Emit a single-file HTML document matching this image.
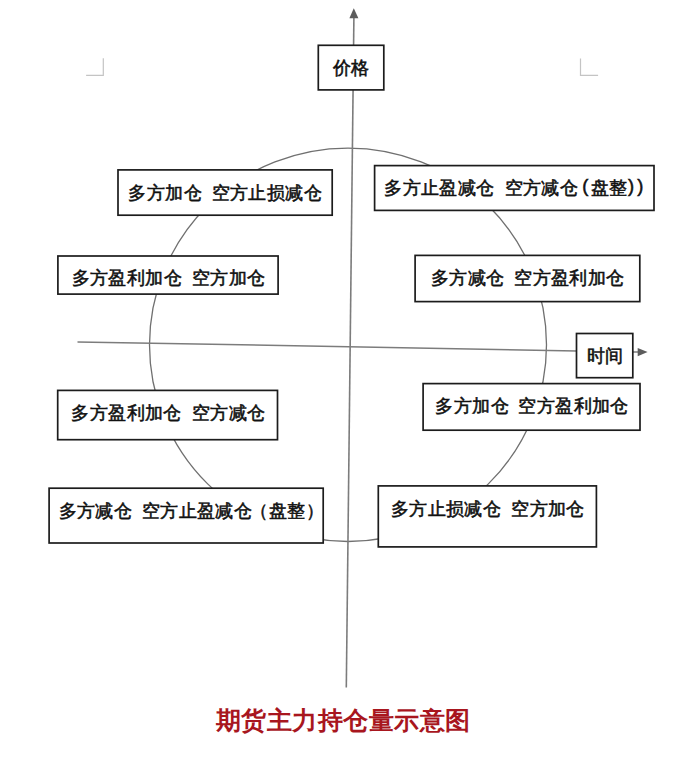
<!DOCTYPE html>
<html><head><meta charset="utf-8"><style>
html,body{margin:0;padding:0;background:#fff;}
body{width:684px;height:774px;position:relative;overflow:hidden;font-family:"Liberation Sans",sans-serif;}
.t{position:absolute;white-space:pre;font-size:18.30px;line-height:1;color:#111;letter-spacing:0.45px;-webkit-text-stroke:0.55px #111;}
.ttl{position:absolute;white-space:pre;font-size:25px;line-height:1;font-weight:bold;color:#a8161e;letter-spacing:0.45px;}
svg{position:absolute;left:0;top:0;}
</style></head><body>
<svg width="684" height="774" viewBox="0 0 684 774">
<path d="M86.1 75.3 H103.3 V58.2 M580.5 58.4 V75.3 H598.1" fill="none" stroke="#c4c4c4" stroke-width="1.2"/>
<ellipse cx="348" cy="344.8" rx="198.5" ry="196.7" fill="none" stroke="#707070" stroke-width="1.3"/>
<line x1="353.9" y1="17" x2="346.3" y2="687.5" stroke="#7c7c7c" stroke-width="1.6"/>
<polygon points="353.8,8.3 349.4,18.2 358.4,18.2" fill="#5c5c5c"/>
<line x1="77.5" y1="341.9" x2="576.5" y2="350.9" stroke="#7c7c7c" stroke-width="1.5"/>
<line x1="632.8" y1="351.9" x2="638.5" y2="352" stroke="#7c7c7c" stroke-width="1.5"/>
<polygon points="647.6,352.1 637.7,347.9 637.7,356.3" fill="#5c5c5c"/>
<rect x="118.0" y="169.9" width="214.2" height="45.3" fill="#fff" stroke="#1c1c1c" stroke-width="1.7"/>
<rect x="374.6" y="165.6" width="279.4" height="44.8" fill="#fff" stroke="#1c1c1c" stroke-width="1.7"/>
<rect x="57.9" y="256.0" width="220.2" height="38.1" fill="#fff" stroke="#1c1c1c" stroke-width="1.7"/>
<rect x="415.1" y="255.4" width="224.7" height="46.2" fill="#fff" stroke="#1c1c1c" stroke-width="1.7"/>
<rect x="318.3" y="45.3" width="65.5" height="44.6" fill="#fff" stroke="#1c1c1c" stroke-width="1.7"/>
<rect x="576.5" y="333.5" width="56.3" height="44.2" fill="#fff" stroke="#1c1c1c" stroke-width="1.7"/>
<rect x="423.1" y="383.6" width="216.9" height="46.6" fill="#fff" stroke="#1c1c1c" stroke-width="1.7"/>
<rect x="57.7" y="390.4" width="219.8" height="49.3" fill="#fff" stroke="#1c1c1c" stroke-width="1.7"/>
<rect x="49.1" y="488.2" width="274.1" height="54.8" fill="#fff" stroke="#1c1c1c" stroke-width="1.7"/>
<rect x="378.3" y="485.9" width="218.1" height="61.0" fill="#fff" stroke="#1c1c1c" stroke-width="1.7"/>
</svg>
<div class="t" style="left:128.40px;top:183.60px;">多方加仓</div>
<div class="t" style="left:211.60px;top:183.60px;">空方止损减仓</div>
<div class="t" style="left:384.10px;top:179.30px;">多方止盈减仓</div>
<div class="t" style="left:504.60px;top:179.30px;">空方减仓</div>
<div class="t" style="left:582.30px;top:177.30px;font-weight:normal;">(</div>
<div class="t" style="left:590.50px;top:179.30px;">盘整</div>
<div class="t" style="left:628.00px;top:177.30px;font-weight:normal;">)</div>
<div class="t" style="left:637.30px;top:177.30px;font-weight:normal;">)</div>
<div class="t" style="left:71.60px;top:269.30px;">多方盈利加仓</div>
<div class="t" style="left:191.70px;top:269.30px;">空方加仓</div>
<div class="t" style="left:430.80px;top:269.30px;">多方减仓</div>
<div class="t" style="left:514.10px;top:269.30px;">空方盈利加仓</div>
<div class="t" style="left:332.60px;top:58.60px;">价格</div>
<div class="t" style="left:586.80px;top:347.00px;">时间</div>
<div class="t" style="left:435.30px;top:397.30px;">多方加仓</div>
<div class="t" style="left:518.20px;top:397.30px;">空方盈利加仓</div>
<div class="t" style="left:71.20px;top:404.20px;">多方盈利加仓</div>
<div class="t" style="left:191.70px;top:404.20px;">空方减仓</div>
<div class="t" style="left:58.50px;top:501.70px;">多方减仓</div>
<div class="t" style="left:141.70px;top:501.70px;">空方止盈减仓</div>
<div class="t" style="left:250.30px;top:501.70px;">（盘整）</div>
<div class="t" style="left:390.70px;top:500.20px;">多方止损减仓</div>
<div class="t" style="left:511.10px;top:500.20px;">空方加仓</div>
<div class="ttl" style="left:216px;top:707.5px">期货主力持仓量示意图</div>
</body></html>
